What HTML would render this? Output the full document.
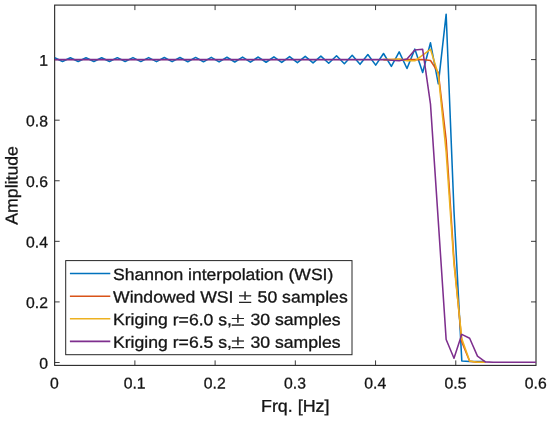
<!DOCTYPE html>
<html><head><meta charset="utf-8"><title>Amplitude vs Frq.</title>
<style>html,body{margin:0;padding:0;background:#fff}svg{display:block;text-rendering:geometricPrecision}text{font-family:"Liberation Sans",sans-serif;fill:#141414;stroke:#141414;stroke-width:0.3px}text.pm{font-family:"DejaVu Sans Light","DejaVu Sans",sans-serif;font-weight:200;stroke:#141414;stroke-width:0.45px}</style></head><body>
<svg width="550" height="421" viewBox="0 0 550 421">
<rect x="0" y="0" width="550" height="421" fill="#fff"/>
<defs><clipPath id="c"><rect x="54.65" y="5.10" width="481.35" height="360.30"/></clipPath></defs>
<g stroke="#262626" stroke-width="1.1" fill="none">
<rect x="54.65" y="5.10" width="481.35" height="360.30"/>
<g stroke-width="0.9">
<path d="M134.88 365.40v-5 M134.88 5.10v5"/>
<path d="M215.10 365.40v-5 M215.10 5.10v5"/>
<path d="M295.32 365.40v-5 M295.32 5.10v5"/>
<path d="M375.55 365.40v-5 M375.55 5.10v5"/>
<path d="M455.78 365.40v-5 M455.78 5.10v5"/>
<path d="M54.65 362.50h5 M536.00 362.50h-5"/>
<path d="M54.65 301.92h5 M536.00 301.92h-5"/>
<path d="M54.65 241.34h5 M536.00 241.34h-5"/>
<path d="M54.65 180.76h5 M536.00 180.76h-5"/>
<path d="M54.65 120.18h5 M536.00 120.18h-5"/>
<path d="M54.65 59.60h5 M536.00 59.60h-5"/>
</g></g>
<g clip-path="url(#c)" fill="none" stroke-width="1.55" stroke-linejoin="round" stroke-linecap="butt">
<polyline stroke="#0072BD" points="54.70,57.72 62.53,61.48 70.36,57.72 78.19,61.48 86.02,57.71 93.84,61.50 101.67,57.69 109.50,61.52 117.33,57.67 125.16,61.54 132.99,57.64 140.82,61.58 148.65,57.60 156.48,61.62 164.31,57.56 172.13,61.67 179.96,57.50 187.79,61.73 195.62,57.44 203.45,61.80 211.28,57.36 219.11,61.89 226.94,57.26 234.77,61.99 242.60,57.15 250.43,62.11 258.25,57.02 266.08,62.26 273.91,56.85 281.74,62.44 289.57,56.66 297.40,62.66 305.23,56.42 313.06,62.93 320.89,56.11 328.71,63.27 336.54,55.72 344.37,63.71 352.20,55.21 360.03,64.31 367.86,54.51 375.69,65.14 383.52,53.50 391.35,66.39 399.18,51.92 407.00,68.46 414.83,49.11 422.66,72.49 430.49,42.81 438.32,83.79 446.15,14.17 453.98,211.05 461.81,360.99 469.64,361.59 477.47,361.59 485.29,361.59"/>
<polyline stroke="#D95319" stroke-width="0.8" points="54.70,59.60 62.53,59.60 70.36,59.60 78.19,59.60 86.02,59.60 93.84,59.60 101.67,59.60 109.50,59.60 117.33,59.60 125.16,59.60 132.99,59.60 140.82,59.60 148.65,59.60 156.48,59.60 164.31,59.60 172.13,59.60 179.96,59.60 187.79,59.60 195.62,59.60 203.45,59.60 211.28,59.60 219.11,59.60 226.94,59.60 234.77,59.60 242.60,59.60 250.43,59.60 258.25,59.60 266.08,59.60 273.91,59.60 281.74,59.60 289.57,59.60 297.40,59.60 305.23,59.60 313.06,59.60 320.89,59.60 328.71,59.60 336.54,59.60 344.37,59.60 352.20,59.60 360.03,59.60 367.86,59.60 375.69,59.60 383.52,59.60"/>
<polyline stroke="#D95319" points="383.52,59.60 391.35,59.60 399.18,59.60 407.00,59.60 414.83,59.60 422.66,59.60 430.49,60.51 438.32,72.62 446.15,139.87 453.98,260.12 461.81,341.90 469.64,361.29 477.47,362.20 485.29,362.20"/>
<polyline stroke="#EDB120" points="383.52,59.60 391.35,59.60 399.18,58.99 407.00,60.81 414.83,60.81 422.66,55.06 430.49,49.30 438.32,74.44 446.15,152.29 453.98,264.06 461.81,338.87 469.64,360.99 477.47,362.20 485.29,362.20"/>
<polyline stroke="#7E2F8E" points="54.70,59.60 62.53,59.60 70.36,59.60 78.19,59.60 86.02,59.60 93.84,59.60 101.67,59.60 109.50,59.60 117.33,59.60 125.16,59.60 132.99,59.60 140.82,59.60 148.65,59.60 156.48,59.60 164.31,59.60 172.13,59.60 179.96,59.60 187.79,59.60 195.62,59.60 203.45,59.60 211.28,59.60 219.11,59.60 226.94,59.60 234.77,59.60 242.60,59.60 250.43,59.60 258.25,59.60 266.08,59.60 273.91,59.60 281.74,59.60 289.57,59.60 297.40,59.60 305.23,59.60 313.06,59.60 320.89,59.60 328.71,59.60 336.54,59.60 344.37,59.60 352.20,59.60 360.03,59.60 367.86,59.60 375.69,59.60 383.52,59.60 391.35,60.21 399.18,60.81 407.00,58.99 414.83,49.91 422.66,49.30 430.49,104.13 438.32,221.65 446.15,339.48 453.98,358.26 461.81,334.33 469.64,338.27 477.47,356.14 485.29,361.89 493.12,362.20 500.95,362.20 508.78,362.20 516.61,362.20 524.44,362.20 532.27,362.20 540.10,362.20"/>
</g>
<text transform="translate(54.35 388.40) rotate(0.03) scale(1.015 1)" font-size="15.50" text-anchor="middle">0</text>
<text transform="translate(134.57 388.40) rotate(0.03) scale(1.015 1)" font-size="15.50" text-anchor="middle">0.1</text>
<text transform="translate(214.80 388.40) rotate(0.03) scale(1.015 1)" font-size="15.50" text-anchor="middle">0.2</text>
<text transform="translate(295.02 388.40) rotate(0.03) scale(1.015 1)" font-size="15.50" text-anchor="middle">0.3</text>
<text transform="translate(375.25 388.40) rotate(0.03) scale(1.015 1)" font-size="15.50" text-anchor="middle">0.4</text>
<text transform="translate(455.48 388.40) rotate(0.03) scale(1.015 1)" font-size="15.50" text-anchor="middle">0.5</text>
<text transform="translate(535.70 388.40) rotate(0.03) scale(1.015 1)" font-size="15.50" text-anchor="middle">0.6</text>
<text transform="translate(47.90 368.70) rotate(0.03) scale(1.015 1)" font-size="15.50" text-anchor="end">0</text>
<text transform="translate(47.90 308.12) rotate(0.03) scale(1.015 1)" font-size="15.50" text-anchor="end">0.2</text>
<text transform="translate(47.90 247.54) rotate(0.03) scale(1.015 1)" font-size="15.50" text-anchor="end">0.4</text>
<text transform="translate(47.90 186.96) rotate(0.03) scale(1.015 1)" font-size="15.50" text-anchor="end">0.6</text>
<text transform="translate(47.90 126.38) rotate(0.03) scale(1.015 1)" font-size="15.50" text-anchor="end">0.8</text>
<text transform="translate(47.90 65.80) rotate(0.03) scale(1.015 1)" font-size="15.50" text-anchor="end">1</text>
<text transform="translate(295.20 411.80) rotate(0.03) scale(1.050 1)" font-size="17.00" text-anchor="middle">Frq. [Hz]</text>
<text transform="translate(17.5 185.4) rotate(-90.03) scale(1.03 1)" font-size="17.2" text-anchor="middle">Amplitude</text>
<rect x="65.7" y="260.6" width="286.3" height="94.1" fill="#fff" stroke="#262626" stroke-width="1"/>
<path d="M69.9 273.55H110.3" stroke="#0072BD" stroke-width="1.55" fill="none"/>
<text transform="translate(113.00 279.90) rotate(0.03) scale(1.077 1)" font-size="16.30" text-anchor="start">Shannon interpolation (WSI)</text>
<path d="M69.9 296.15H110.3" stroke="#D95319" stroke-width="1.55" fill="none"/>
<text transform="translate(113.00 302.50) rotate(0.03) scale(1.082 1)" font-size="16.30" text-anchor="start">Windowed WSI</text>
<text class="pm" transform="translate(237.20 302.80) rotate(0.03) scale(1 0.94)" font-size="18.8">±</text>
<text transform="translate(257.60 302.50) rotate(0.03) scale(1.082 1)" font-size="16.30" text-anchor="start">50 samples</text>
<path d="M69.9 318.75H110.3" stroke="#EDB120" stroke-width="1.55" fill="none"/>
<text transform="translate(113.00 325.10) rotate(0.03) scale(1.082 1)" font-size="16.30" text-anchor="start">Kriging r=6.0 s,</text>
<text class="pm" transform="translate(230.10 325.40) rotate(0.03) scale(1 0.94)" font-size="18.8">±</text>
<text transform="translate(250.50 325.10) rotate(0.03) scale(1.082 1)" font-size="16.30" text-anchor="start">30 samples</text>
<path d="M69.9 341.35H110.3" stroke="#7E2F8E" stroke-width="1.55" fill="none"/>
<text transform="translate(113.00 347.70) rotate(0.03) scale(1.082 1)" font-size="16.30" text-anchor="start">Kriging r=6.5 s,</text>
<text class="pm" transform="translate(230.10 348.00) rotate(0.03) scale(1 0.94)" font-size="18.8">±</text>
<text transform="translate(250.50 347.70) rotate(0.03) scale(1.082 1)" font-size="16.30" text-anchor="start">30 samples</text>
</svg></body></html>
